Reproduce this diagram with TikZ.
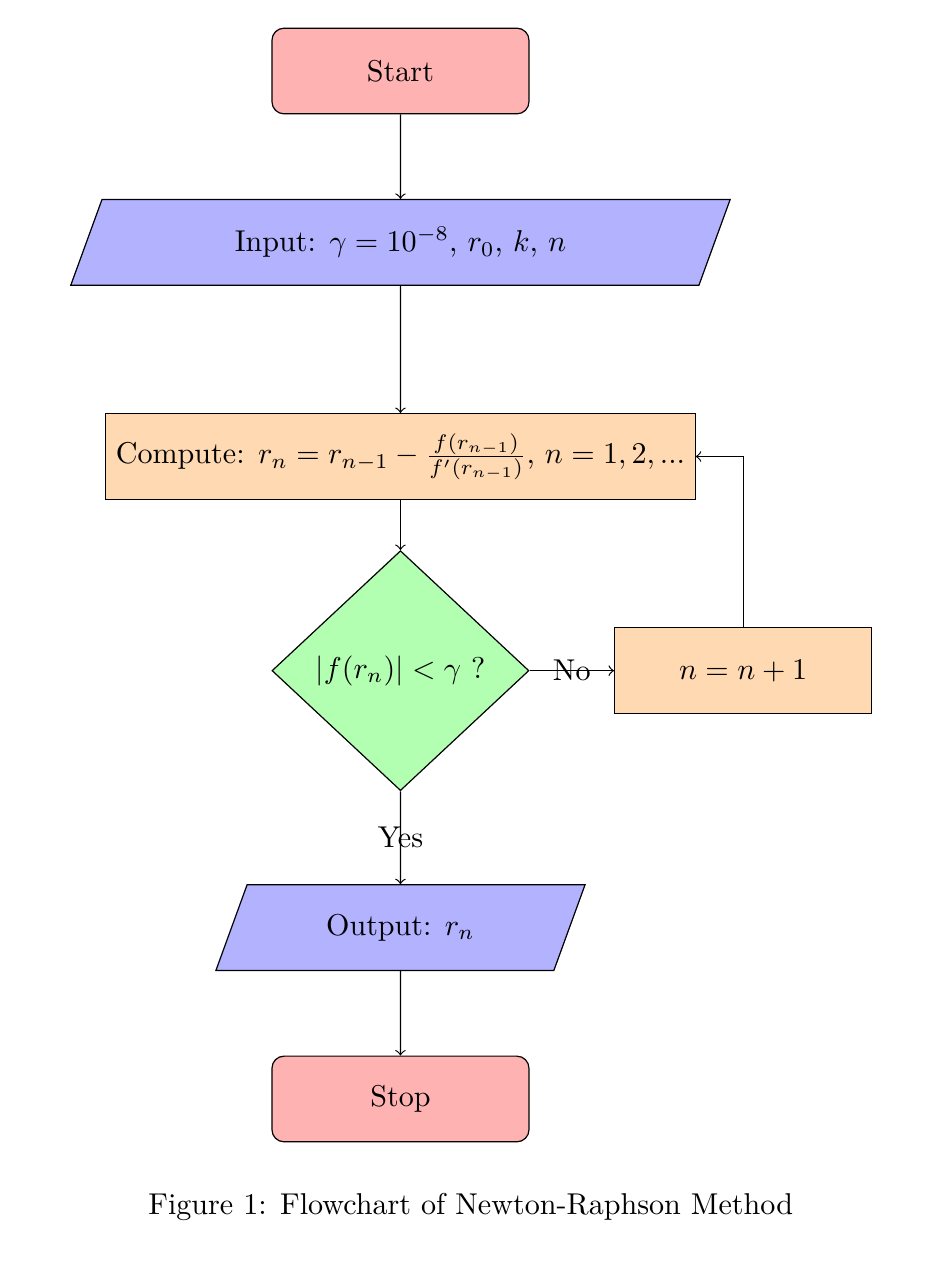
\documentclass[tikz,border=0pt]{standalone}
\usetikzlibrary{shapes.geometric, arrows}
\tikzset{startstop/.style={rectangle, rounded corners, minimum width=3cm, minimum height=1cm, text centered, draw=black, fill=red!30},
  io/.style={trapezium, trapezium left angle=70, trapezium right angle=110, minimum width=3cm, minimum height=1cm, text centered, draw=black, fill=blue!30},
  process/.style={rectangle, minimum width=3cm, minimum height=1cm, text centered, draw=black, fill=orange!30},
  decision/.style={diamond, minimum width=3cm, minimum height=1cm, text centered, draw=black, fill=green!30}}

\begin{document}
\begin{tikzpicture}[node distance=2cm]
            \useasboundingbox (-4.675,0.829) rectangle (6.146,-14.09);
            \node[startstop] (start) {Start};
            \node[io, below of=start] (input) {Input: $\gamma=10^{-8}$, $r_0$, $k$, $n$};
            \node[process, below of=input, yshift=-0.5cm] (compute) {Compute: $r_n=r_{n-1}-\frac{f(r_{n-1})}{f'(r_{n-1})}$, $n=1,2,...$};
            \node[decision, below of=compute, yshift=-0.5cm] (check) {$|f(r_n)|<\gamma$ ?};
            \node[process, right of=check, xshift=2cm] (increment) {$n=n+1$};
            \node[io, below of=check, yshift=-1cm] (output) {Output: $r_n$};
            \node[startstop, below of=output] (stop) {Stop};
            \node (caption) at (0.82,-13.26) {Figure 1: Flowchart of Newton-Raphson Method};
            \draw[->] (start) -- (input);
            \draw[->] (input) -- (compute);
            \draw[->] (compute) -- (check);
            \draw[->] (check) -- node{No} (increment);
            \draw[->] (increment) |- (compute);
            \draw[->] (check) -- node{Yes} (output);
            \draw[->] (output) -- (stop);
      \end{tikzpicture}
\end{document}
